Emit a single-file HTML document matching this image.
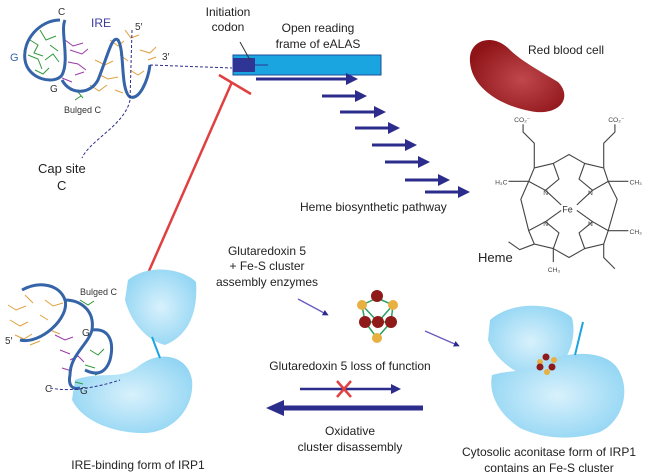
<!DOCTYPE html>
<html><head><meta charset="utf-8"><style>
html,body{margin:0;padding:0;background:#fff;}
svg{display:block;font-family:"Liberation Sans",sans-serif;}
</style></head><body>
<svg width="650" height="476" viewBox="0 0 650 476" xmlns="http://www.w3.org/2000/svg">
<defs>
<radialGradient id="pb" cx="0.5" cy="0.5" r="0.6"><stop offset="0" stop-color="#d8f1fc"/><stop offset="1" stop-color="#8fd4f3"/></radialGradient>
<radialGradient id="rbc" cx="0.55" cy="0.55" r="0.6"><stop offset="0" stop-color="#c0484c"/><stop offset="1" stop-color="#8e1418"/></radialGradient>
<marker id="ah" markerWidth="4" markerHeight="4" refX="2" refY="2" orient="auto"><path d="M0,0 L4,2 L0,4 Z" fill="#2b2c8c"/></marker>
</defs>

<!-- top RNA -->
<g fill="none" stroke-width="1">
<g stroke="#2f9a3a"><path d="M30,40 l8,5 l-4,8 l9,3 M40,30 l6,10 l10,-4 M28,55 l10,4 l4,10 M45,60 l8,-6 l6,8 M50,45 l8,6 M35,70 l8,4 l6,-6 M70,90 l8,2 l5,6 M75,100 l6,-4"/></g>
<g stroke="#9a3aa8"><path d="M65,40 l8,6 l10,-3 M70,50 l12,4 l6,-5 M68,62 l10,2 l8,6 M75,75 l9,-3 M62,78 l10,4"/></g>
<g stroke="#e0a040"><path d="M95,60 l10,5 l8,-4 M100,75 l8,4 l10,-2 M90,85 l9,6 l8,-6 M110,40 l8,6 l6,-5 M120,55 l8,6 M125,30 l6,8 l8,-3 M130,70 l8,5 l6,-4 M115,90 l8,3 M140,50 l10,3 l6,-6 M148,60 l8,-3"/></g>
</g>
<path d="M60,20 C40,20 22,40 25,60 C28,80 55,85 62,75 C70,60 60,30 65,20 M62,80 C70,95 90,95 98,80 C108,55 112,35 118,40 C125,50 120,90 130,97 C140,100 148,80 150,65" fill="none" stroke="#3564a8" stroke-width="3"/>
<text x="58" y="15" font-size="10" fill="#333">C</text>
<text x="91" y="27" font-size="12" fill="#3b3b9a">IRE</text>
<text x="135" y="30" font-size="10" fill="#333">5′</text>
<text x="162" y="60" font-size="10" fill="#333">3′</text>
<text x="10" y="61" font-size="11" fill="#3564a8">G</text>
<text x="50" y="92" font-size="10" fill="#333">G</text>
<text x="64" y="113" font-size="9" fill="#333">Bulged C</text>
<path d="M150,65 L232,68" stroke="#2b2c8c" stroke-width="1" stroke-dasharray="3,2" fill="none"/>
<path d="M132,30 L130,100 C125,125 90,140 82,158" stroke="#2b2c8c" stroke-width="1" stroke-dasharray="3,2" fill="none"/>
<text x="38" y="173" font-size="13" fill="#222">Cap site</text>
<text x="57" y="190" font-size="13" fill="#222">C</text>

<!-- ORF bar -->
<rect x="233" y="55" width="148" height="20" fill="#1aa5e0" stroke="#1c4d9a" stroke-width="1"/>
<rect x="233" y="58" width="22" height="14" fill="#2e3594"/>
<line x1="255" y1="65" x2="268" y2="65" stroke="#2e3594"/>
<line x1="240" y1="42" x2="250" y2="60" stroke="#333"/>
<text x="228" y="16" font-size="12" fill="#222" text-anchor="middle">Initiation</text>
<text x="228" y="31" font-size="12" fill="#222" text-anchor="middle">codon</text>
<text x="318" y="32" font-size="12" fill="#222" text-anchor="middle">Open reading</text>
<text x="318" y="48" font-size="12" fill="#222" text-anchor="middle">frame of eALAS</text>

<!-- pathway arrows -->
<g stroke="#2b2c8c" stroke-width="3" marker-end="url(#ah)">
<line x1="256" y1="79" x2="352" y2="79"/>
<line x1="322" y1="96" x2="361" y2="96"/>
<line x1="340" y1="112" x2="380" y2="112"/>
<line x1="355" y1="128" x2="394" y2="128"/>
<line x1="372" y1="145" x2="411" y2="145"/>
<line x1="385" y1="162" x2="424" y2="162"/>
<line x1="405" y1="180" x2="444" y2="180"/>
<line x1="425" y1="192" x2="464" y2="192"/>
</g>
<text x="300" y="211" font-size="12" fill="#222">Heme biosynthetic pathway</text>

<!-- red inhibitor -->
<line x1="145" y1="280" x2="232" y2="82" stroke="#e04040" stroke-width="2.5"/>
<line x1="219" y1="75" x2="251" y2="94" stroke="#e04040" stroke-width="2.5"/>

<!-- RBC -->
<path d="M470,62 C468,40 492,33 508,48 C522,62 542,72 558,82 C572,96 562,114 536,112 C505,108 472,90 470,62 Z" fill="url(#rbc)"/>
<text x="528" y="54" font-size="12" fill="#222">Red blood cell</text>

<!-- Heme -->
<g transform="translate(569,206) scale(1.12) translate(-569,-206)">
<g stroke="#444" stroke-width="1" fill="none">
<path d="M538,172 L555,168 L560,182 L548,192 L533,184 Z"/>
<path d="M583,168 L600,172 L604,184 L590,192 L578,182 Z"/>
<path d="M533,228 L548,220 L560,230 L555,244 L538,240 Z"/>
<path d="M578,230 L590,220 L604,228 L600,240 L583,244 Z"/>
<path d="M555,168 L569,160 L583,168 M533,184 L526,200 L533,228 M604,184 L612,200 L604,228 M555,244 L569,252 L583,244"/>
<path d="M548,192 L562,205 M590,192 L576,205 M548,220 L562,210 M590,220 L576,210"/>
<path d="M538,172 L538,150 L528,140 L528,133 M600,172 L600,150 L610,140 L610,133 M533,184 L515,184 M604,184 L622,184 M604,228 L622,228 M538,240 L525,245 L515,238 M555,244 L555,256 M600,240 L600,252 L610,262"/>
</g>
<g font-size="6" fill="#444"><text x="520" y="131">CO₂⁻</text><text x="604" y="131">CO₂⁻</text><text x="503" y="187">H₃C</text><text x="623" y="187">CH₃</text><text x="623" y="231">CH₃</text><text x="550" y="265">CH₃</text><text x="546" y="196">N</text><text x="586" y="196">N</text><text x="546" y="224">N</text><text x="586" y="224">N</text></g>
<text x="563" y="212" font-size="8" fill="#333">Fe</text>
</g>
<text x="478" y="262" font-size="13" fill="#222">Heme</text>

<!-- middle labels -->
<text x="267" y="255" font-size="12" fill="#222" text-anchor="middle">Glutaredoxin 5</text>
<text x="267" y="270" font-size="12" fill="#222" text-anchor="middle">+ Fe-S cluster</text>
<text x="267" y="286" font-size="12" fill="#222" text-anchor="middle">assembly enzymes</text>
<line x1="298" y1="299" x2="326" y2="314" stroke="#6a5fc0" stroke-width="1.5" marker-end="url(#ah)"/>
<line x1="425" y1="331" x2="457" y2="345" stroke="#6a5fc0" stroke-width="1.5" marker-end="url(#ah)"/>
<!-- big cluster -->
<g stroke="#2aa060" stroke-width="1.5" fill="none"><path d="M377,298 L362,305 L365,322 L377,338 L391,322 L393,305 Z M362,305 L378,322 L393,305 M365,322 L391,322"/></g>
<g><circle cx="362" cy="305" r="5" fill="#e8b040"/><circle cx="393" cy="305" r="5" fill="#e8b040"/><circle cx="377" cy="338" r="5" fill="#e8b040"/><circle cx="377" cy="296" r="6" fill="#8e1a1a"/><circle cx="365" cy="322" r="6" fill="#8e1a1a"/><circle cx="378" cy="322" r="6" fill="#8e1a1a"/><circle cx="391" cy="322" r="6" fill="#8e1a1a"/></g>

<text x="350" y="370" font-size="12" fill="#222" text-anchor="middle">Glutaredoxin 5 loss of function</text>
<line x1="300" y1="389" x2="396" y2="389" stroke="#2b2c8c" stroke-width="2.5" marker-end="url(#ah)"/>
<path d="M337,381 L351,397 M351,381 L337,397" stroke="#e04040" stroke-width="2.5"/>
<line x1="423" y1="408" x2="282" y2="408" stroke="#2b2c8c" stroke-width="5"/>
<path d="M266,408 L284,400 L284,416 Z" fill="#2b2c8c"/>
<text x="350" y="435" font-size="12" fill="#222" text-anchor="middle">Oxidative</text>
<text x="350" y="451" font-size="12" fill="#222" text-anchor="middle">cluster disassembly</text>

<!-- left protein -->
<path d="M128,280 C150,262 185,270 196,282 C198,310 190,335 165,345 C145,340 130,320 125,300 Z" fill="url(#pb)"/>
<path d="M75,380 C100,370 120,382 140,365 C160,350 188,355 192,380 C195,410 170,435 140,433 C110,432 82,420 72,400 Z" fill="url(#pb)"/>
<line x1="152" y1="337" x2="160" y2="358" stroke="#1aa5e0" stroke-width="2"/>
<g fill="none" stroke-width="1">
<g stroke="#e0a040"><path d="M8,305 l8,5 l10,-4 M10,320 l10,6 l8,-4 M15,335 l9,4 l8,-5 M25,295 l8,8 M30,345 l10,-4 M45,300 l8,6 l10,-3 M40,315 l8,5 M50,330 l10,4"/></g>
<g stroke="#9a3aa8"><path d="M55,335 l10,5 l8,-3 M60,350 l10,4 M70,360 l8,-4 l6,6 M62,368 l10,3"/></g>
<g stroke="#2f9a3a"><path d="M80,300 l8,5 l6,-4 M90,350 l8,5 l6,-6 M85,365 l10,3 M95,375 l8,-3 M75,382 l8,2"/></g>
</g>
<path d="M22,290 C40,280 60,285 65,300 C70,318 40,345 20,340 M65,300 C80,300 95,310 92,330 C88,345 70,355 70,375 C68,385 72,390 80,388 M92,330 C108,328 115,340 110,360 C105,375 95,375 85,370" fill="none" stroke="#3564a8" stroke-width="3"/>
<path d="M50,388 C70,392 95,388 120,380" fill="none" stroke="#2b2c8c" stroke-dasharray="3,2"/>
<text x="80" y="295" font-size="9" fill="#333">Bulged C</text>
<text x="5" y="344" font-size="10" fill="#333">5′</text>
<text x="82" y="336" font-size="10" fill="#333">G</text>
<text x="80" y="394" font-size="10" fill="#333">G</text>
<text x="45" y="392" font-size="10" fill="#333">C</text>
<text x="138" y="469" font-size="12" fill="#222" text-anchor="middle">IRE-binding form of IRP1</text>

<!-- right protein -->
<path d="M490,320 C515,298 560,305 572,318 C578,340 565,370 545,378 C520,380 495,360 488,340 Z" fill="url(#pb)"/>
<path d="M492,375 C515,368 530,375 548,360 C570,352 600,350 615,365 C632,385 625,420 600,432 C575,440 545,440 520,428 C500,415 488,395 492,375 Z" fill="url(#pb)"/>
<line x1="583" y1="322" x2="575" y2="355" stroke="#1aa5e0" stroke-width="2"/>
<g><circle cx="540" cy="362" r="3" fill="#e8b040"/><circle cx="554" cy="360" r="3" fill="#e8b040"/><circle cx="547" cy="372" r="3" fill="#e8b040"/><circle cx="546" cy="357" r="3.5" fill="#8e1a1a"/><circle cx="540" cy="367" r="3.5" fill="#8e1a1a"/><circle cx="552" cy="367" r="3.5" fill="#8e1a1a"/></g>
<text x="549" y="456" font-size="12" fill="#222" text-anchor="middle">Cytosolic aconitase form of IRP1</text>
<text x="549" y="472" font-size="12" fill="#222" text-anchor="middle">contains an Fe-S cluster</text>
</svg>
</body></html>
